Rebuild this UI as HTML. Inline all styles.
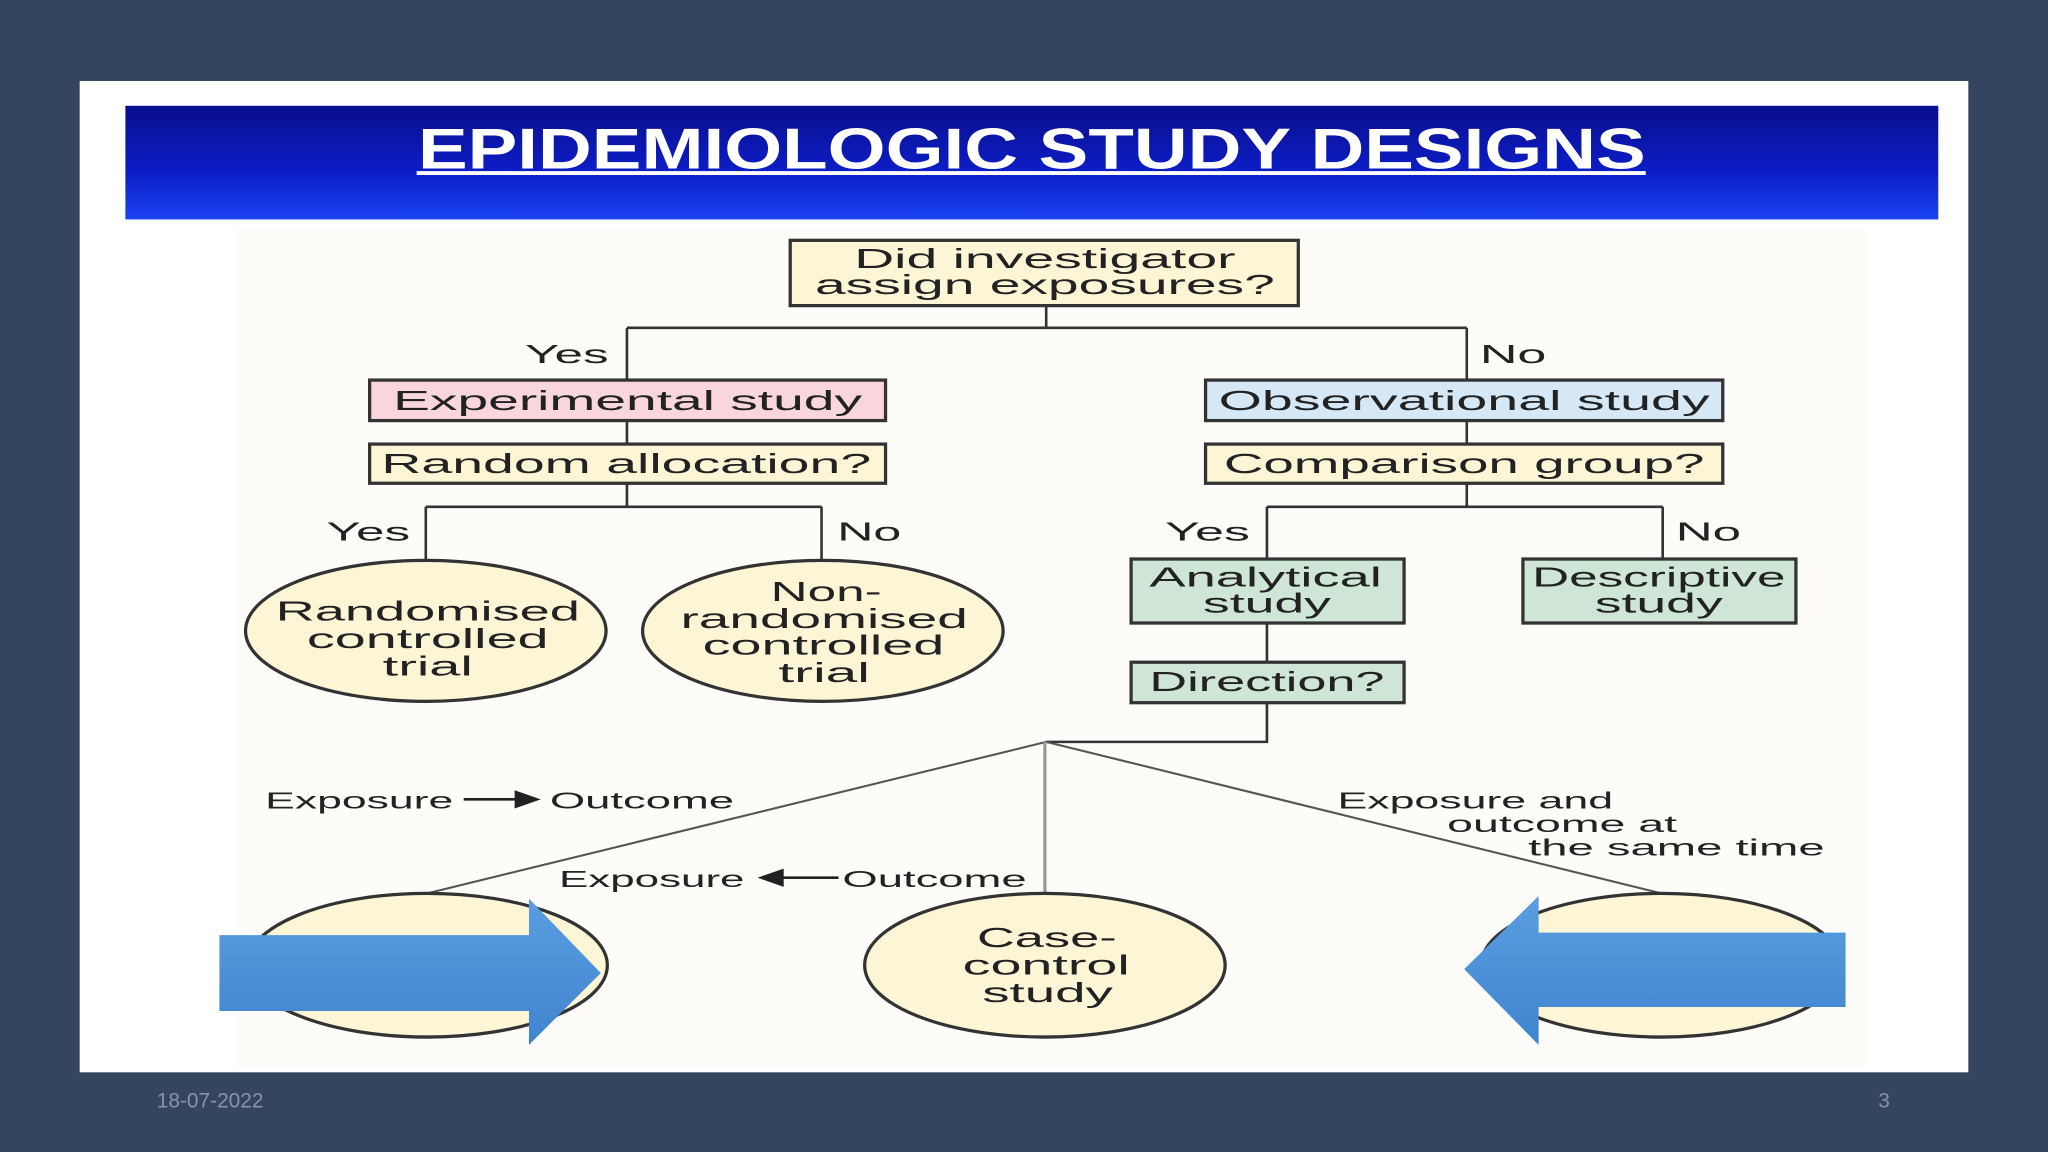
<!DOCTYPE html>
<html><head><style>html,body{margin:0;padding:0;background:#34465e}svg{display:block}</style></head>
<body>
<svg width="2048" height="1152" viewBox="0 0 1568 882" preserveAspectRatio="none" xmlns="http://www.w3.org/2000/svg" font-family="Liberation Sans, sans-serif">
<defs>
<linearGradient id="tg" x1="0" y1="0" x2="0" y2="1"><stop offset="0" stop-color="#0a0e8c"/><stop offset="0.6" stop-color="#0c1ec8"/><stop offset="1" stop-color="#1c44f4"/></linearGradient>
<linearGradient id="ag" x1="0" y1="0" x2="0" y2="1"><stop offset="0" stop-color="#5a9ee0"/><stop offset="1" stop-color="#3f84cf"/></linearGradient>
</defs>
<rect width="1568" height="882" fill="#34465e"/>
<rect x="61" y="62" width="1446" height="759" fill="#ffffff"/>
<rect x="180" y="176" width="1250" height="640" fill="#fdfcf9"/>
<rect x="96" y="81" width="1388" height="87" fill="url(#tg)"/>
<text x="790" y="129" fill="#fff" font-weight="bold" font-size="44" text-anchor="middle" textLength="940" lengthAdjust="spacingAndGlyphs">EPIDEMIOLOGIC STUDY DESIGNS</text>
<rect x="319" y="131" width="941" height="3" fill="#fff"/>
<g stroke="#333" stroke-width="2" fill="none">
<path d="M801 234V251M480 251H1123M480 251V291M1123 251V291M480 322V340M1123 322V340M480 370V388M326 388H629M326 388V430M629 388V430M1123 370V388M970 388H1273M970 388V428M1273 388V428M970 477V507M970 538V568H801"/>
<path d="M801 568L327 684M801 568L1272 684" stroke-width="1.6" stroke="#555"/>
<path d="M800 568V684" stroke="#999" stroke-width="2.5"/>
</g>
<g stroke="#333" stroke-width="2.5">
<rect x="605" y="184" width="389" height="50" fill="#fcf6d6"/>
<rect x="283" y="291" width="395" height="31" fill="#f8d6dc"/>
<rect x="923" y="291" width="396" height="31" fill="#d6e8f6"/>
<rect x="283" y="340" width="395" height="30" fill="#fcf6d6"/>
<rect x="923" y="340" width="396" height="30" fill="#fcf6d6"/>
<rect x="866" y="428" width="209" height="49" fill="#cfe6d6"/>
<rect x="1166" y="428" width="209" height="49" fill="#cfe6d6"/>
<rect x="866" y="507" width="209" height="31" fill="#cfe6d6"/>
<ellipse cx="326" cy="483" rx="138" ry="54" fill="#fcf6d6"/>
<ellipse cx="630" cy="483" rx="138" ry="54" fill="#fcf6d6"/>
<ellipse cx="327" cy="739" rx="138" ry="55" fill="#fcf6d6"/>
<ellipse cx="800" cy="739" rx="138" ry="55" fill="#fcf6d6"/>
<ellipse cx="1272" cy="739" rx="138" ry="55" fill="#fcf6d6"/>
</g>
<g fill="#222" font-size="21">
<text x="654" y="205" textLength="292" lengthAdjust="spacingAndGlyphs">Did investigator</text>
<text x="624" y="225" textLength="352" lengthAdjust="spacingAndGlyphs">assign exposures?</text>
<text x="301" y="314" textLength="359" lengthAdjust="spacingAndGlyphs">Experimental study</text>
<text x="933" y="314" textLength="376" lengthAdjust="spacingAndGlyphs">Observational study</text>
<text x="292" y="362" textLength="375" lengthAdjust="spacingAndGlyphs">Random allocation?</text>
<text x="937" y="362" textLength="368" lengthAdjust="spacingAndGlyphs">Comparison group?</text>
<text x="880" y="449" textLength="178" lengthAdjust="spacingAndGlyphs">Analytical</text><text x="921" y="469" textLength="98" lengthAdjust="spacingAndGlyphs">study</text>
<text x="1173" y="449" textLength="194" lengthAdjust="spacingAndGlyphs">Descriptive</text><text x="1221" y="469" textLength="98" lengthAdjust="spacingAndGlyphs">study</text>
<text x="880" y="529" textLength="180" lengthAdjust="spacingAndGlyphs">Direction?</text>
<text x="211" y="475" textLength="233" lengthAdjust="spacingAndGlyphs">Randomised</text><text x="235" y="496" textLength="185" lengthAdjust="spacingAndGlyphs">controlled</text><text x="293" y="517" textLength="69" lengthAdjust="spacingAndGlyphs">trial</text>
<text x="590" y="460" textLength="85" lengthAdjust="spacingAndGlyphs">Non-</text><text x="521" y="481" textLength="220" lengthAdjust="spacingAndGlyphs">randomised</text><text x="538" y="501" textLength="185" lengthAdjust="spacingAndGlyphs">controlled</text><text x="596" y="522" textLength="70" lengthAdjust="spacingAndGlyphs">trial</text>
<text x="748" y="725" textLength="107" lengthAdjust="spacingAndGlyphs">Case-</text><text x="737" y="746" textLength="128" lengthAdjust="spacingAndGlyphs">control</text><text x="752" y="767" textLength="100" lengthAdjust="spacingAndGlyphs">study</text>
</g>
<g fill="#222" font-size="20">
<text x="402" y="278" textLength="64" lengthAdjust="spacingAndGlyphs">Yes</text><text x="1133" y="278" textLength="51" lengthAdjust="spacingAndGlyphs">No</text>
<text x="250" y="414" textLength="64" lengthAdjust="spacingAndGlyphs">Yes</text><text x="641" y="414" textLength="49" lengthAdjust="spacingAndGlyphs">No</text>
<text x="892" y="414" textLength="65" lengthAdjust="spacingAndGlyphs">Yes</text><text x="1283" y="414" textLength="50" lengthAdjust="spacingAndGlyphs">No</text>
</g>
<g fill="#222" font-size="18">
<text x="203" y="619" textLength="144" lengthAdjust="spacingAndGlyphs">Exposure</text><text x="421" y="619" textLength="141" lengthAdjust="spacingAndGlyphs">Outcome</text>
<text x="428" y="679" textLength="142" lengthAdjust="spacingAndGlyphs">Exposure</text><text x="645" y="679" textLength="141" lengthAdjust="spacingAndGlyphs">Outcome</text>
<text x="1024" y="619" textLength="211" lengthAdjust="spacingAndGlyphs">Exposure and</text>
<text x="1108" y="637" textLength="176" lengthAdjust="spacingAndGlyphs">outcome at</text>
<text x="1170" y="655" textLength="227" lengthAdjust="spacingAndGlyphs">the same time</text>
</g>
<path d="M355 612H398" stroke="#222" stroke-width="2"/><path d="M414 612L394 605V619Z" fill="#222"/>
<path d="M598 672H642" stroke="#222" stroke-width="2"/><path d="M580 672L600 665V679Z" fill="#222"/>
<path d="M168 716H405V688L460 745L405 800V774H168Z" fill="url(#ag)"/>
<path d="M1413 714H1178V686L1121 742L1178 800V771H1413Z" fill="url(#ag)"/>
<text x="120" y="848" fill="#8494aa" font-size="16">18-07-2022</text>
<text x="1438" y="848" fill="#8494aa" font-size="16">3</text>
</svg>
</body></html>
